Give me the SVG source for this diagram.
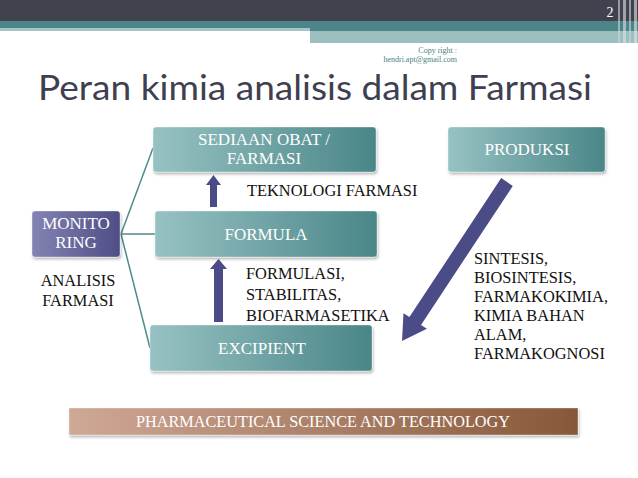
<svg xmlns="http://www.w3.org/2000/svg" width="638" height="478" viewBox="0 0 638 478">
<defs>
<linearGradient id="gTeal" x1="0" y1="0" x2="1" y2="0">
<stop offset="0" stop-color="#97c2c3"/><stop offset="1" stop-color="#4a8688"/>
</linearGradient>
<linearGradient id="gPurple" x1="0" y1="0" x2="1" y2="0">
<stop offset="0" stop-color="#8383b3"/><stop offset="1" stop-color="#4e4e86"/>
</linearGradient>
<linearGradient id="gBrown" x1="0" y1="0" x2="1" y2="0">
<stop offset="0" stop-color="#cfa896"/><stop offset="1" stop-color="#875838"/>
</linearGradient>
<filter id="sh" x="-10%" y="-20%" width="120%" height="150%">
<feDropShadow dx="1" dy="2" stdDeviation="1.5" flood-color="#000" flood-opacity="0.3"/>
</filter>
<style>
.node{filter:url(#sh);stroke:#ffffff;stroke-opacity:0.35;stroke-width:1}
.nt{font-size:17px;fill:#ffffff;text-anchor:middle}
.lb{font-size:16.4px;fill:#111111}
.conn{stroke:#4f8a8e;stroke-width:1.5;fill:none}
.arr{fill:#4b4b87}
</style>
</defs>
<!-- header -->
<rect x="0" y="0" width="638" height="21" fill="#42424f"/>
<rect x="0" y="21" width="638" height="7" fill="#4b8589"/>
<rect x="0" y="28" width="638" height="3" fill="#a5c5c6"/>
<rect x="310" y="28" width="328" height="15" fill="#9dbfc0"/>
<rect x="310" y="21" width="328" height="10" fill="#4b8589"/>
<g opacity="0.6">
<rect x="618" y="0" width="2" height="43" fill="#cfd6d8"/>
<rect x="623" y="0" width="3" height="43" fill="#dfe4e5"/>
<rect x="629" y="0" width="2" height="43" fill="#cfd6d8"/>
<rect x="634" y="0" width="3" height="43" fill="#e4e8e9"/>
</g>
<text x="610" y="17" font-family="Liberation Serif,serif" font-size="14" fill="#ffffff" text-anchor="middle">2</text>
<text x="457" y="53" font-family="Liberation Serif,serif" font-size="8" fill="#4b7f85" text-anchor="end">Copy right :</text>
<text x="457" y="62" font-family="Liberation Serif,serif" font-size="8" fill="#4b7f85" text-anchor="end">hendri.apt@gmail.com</text>
<text x="38" y="100" font-family="Lato,'Open Sans',sans-serif" font-size="35" fill="#3e4050" textLength="554" lengthAdjust="spacingAndGlyphs">Peran kimia analisis dalam Farmasi</text>

<g id="connectors">
<path class="conn" d="M121,234 L153,148"/>
<path class="conn" d="M121,234 L155,234"/>
<path class="conn" d="M121,234 L150,348"/>
<polygon class="arr" points="210,207 217,207 217,185 221,185 213.5,175 206,185 210,185"/>
<polygon class="arr" points="214,322 223,322 223,269 227,269 218.5,259 210,269 214,269"/>
<polygon class="arr" points="501.2,178.1 512.8,185.9 421,324.9 426.9,328.7 402,341 403.5,313.3 409.4,317.1"/>
</g>

<g font-family="Liberation Serif, DejaVu Serif, serif">
<g id="sediaan">
<rect class="node" x="153" y="127" width="223" height="45" rx="3" fill="url(#gTeal)"/>
<text class="nt" x="264" y="145">SEDIAAN OBAT /</text>
<text class="nt" x="264" y="164">FARMASI</text>
</g>
<g id="produksi">
<rect class="node" x="448" y="127" width="157" height="45" rx="3" fill="url(#gTeal)"/>
<text class="nt" x="527" y="155">PRODUKSI</text>
</g>
<g id="monitoring">
<rect class="node" x="32" y="211" width="88" height="46" rx="3" fill="url(#gPurple)"/>
<text class="nt" x="76" y="229">MONITO</text>
<text class="nt" x="76" y="248">RING</text>
</g>
<g id="formula">
<rect class="node" x="155" y="211" width="222" height="46" rx="3" fill="url(#gTeal)"/>
<text class="nt" x="266" y="240">FORMULA</text>
</g>
<g id="excipient">
<rect class="node" x="150" y="325" width="222" height="46" rx="3" fill="url(#gTeal)"/>
<text class="nt" x="262" y="354">EXCIPIENT</text>
</g>
<g id="pharma">
<rect class="node" x="69" y="408" width="509" height="27" fill="url(#gBrown)"/>
<text class="nt" x="323" y="427" font-size="16" textLength="374" lengthAdjust="spacingAndGlyphs">PHARMACEUTICAL SCIENCE AND TECHNOLOGY</text>
</g>

<g id="labels">
<text class="lb" x="247" y="196">TEKNOLOGI FARMASI</text>
<text class="lb" x="246" y="279">FORMULASI,</text>
<text class="lb" x="246" y="300">STABILITAS,</text>
<text class="lb" x="246" y="321">BIOFARMASETIKA</text>
<text class="lb" x="78" y="286" text-anchor="middle">ANALISIS</text>
<text class="lb" x="78" y="306" text-anchor="middle">FARMASI</text>
<text class="lb" x="474" y="264">SINTESIS,</text>
<text class="lb" x="474" y="283">BIOSINTESIS,</text>
<text class="lb" x="474" y="302">FARMAKOKIMIA,</text>
<text class="lb" x="474" y="321">KIMIA BAHAN</text>
<text class="lb" x="474" y="340">ALAM,</text>
<text class="lb" x="474" y="359">FARMAKOGNOSI</text>
</g>
</g>
</svg>
